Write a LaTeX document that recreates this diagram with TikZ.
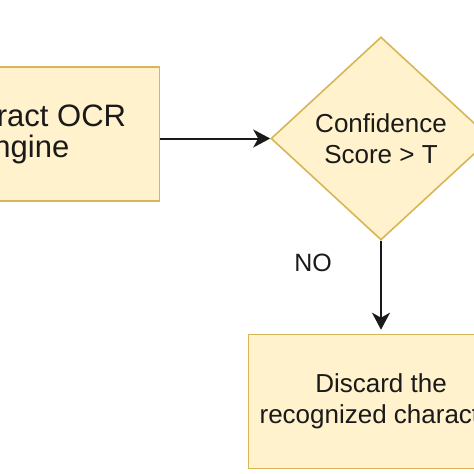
\documentclass[tikz,border=0pt]{standalone}
\usepackage{fontspec}
\setmainfont{Liberation Sans}
\usepackage{xcolor}
\usetikzlibrary{arrows.meta,shapes.geometric,positioning,calc}
\definecolor{boxfill}{HTML}{FFF2CC}
\definecolor{boxline}{HTML}{D6B656}
\definecolor{ink}{HTML}{1A1A1A}
\tikzset{
  stepbox/.style = {draw=boxline, fill=boxfill, line width=1.6pt,
    minimum width=265pt, minimum height=134pt, align=center,
    text=ink, inner sep=0pt},
  decide/.style = {diamond, draw=boxline, fill=boxfill, line width=1.6pt,
    minimum width=220pt, minimum height=203pt, align=center,
    text=ink, inner sep=0pt},
  flow/.style = {draw=ink, line width=2pt,
    -{Stealth[length=17pt,width=18pt,inset=5pt]}}
}

\begin{document}
\begin{tikzpicture}[x=1pt,y=-1pt]

  \useasboundingbox (0,0) rectangle (474,474);
  \fill[white] (0,0) rectangle (474,474);
  \clip (0,0) rectangle (474,474);

  % boxes
  \node[stepbox, minimum width=277pt, font=\fontsize{31}{31}\selectfont]
    (engine) at (21,134) {Tesseract OCR\\Engine};
  \node[decide, font=\fontsize{26}{31}\selectfont] (conf) at (381,138.5)
    {Confidence\\Score > T};
  \node[stepbox, font=\fontsize{26}{31}\selectfont] (discard) at (381,401.5)
    {Discard the\\recognized character};

  % arrows
  \draw[flow] (conf.west -| engine.east) -- (conf.west);
  \draw[flow, shorten >=4pt] (conf.south) -- (conf.south |- discard.north);

  \node[text=ink, font=\fontsize{25}{30}\selectfont] (no) at (313,263) {NO};

\end{tikzpicture}
\end{document}
